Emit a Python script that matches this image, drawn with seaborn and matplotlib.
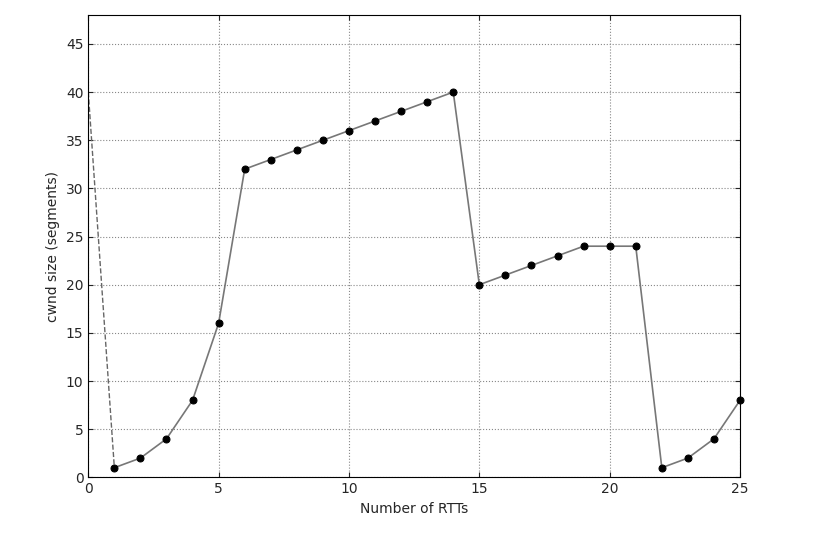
import matplotlib
matplotlib.use("Agg")
import matplotlib.pyplot as plt
import seaborn as sns
import pandas as pd

# cwnd per RTT
rtts = list(range(1, 26))
cwnd = [1, 2, 4, 8, 16, 32, 33, 34, 35, 36, 37, 38, 39, 40,
        20, 21, 22, 23, 24, 24, 24, 1, 2, 4, 8]
# dashed drop at start
drop_x = [0, 1]
drop_y = [40, 1]

sns.set_style("ticks")
plt.rcParams["font.family"] = ["DejaVu Sans"]

df = pd.DataFrame({"rtt": rtts, "cwnd": cwnd})

fig, ax = plt.subplots(figsize=(8.25, 5.57), dpi=100)
fig.subplots_adjust(left=0.107, right=0.897, top=0.973, bottom=0.143)

sns.lineplot(x=drop_x, y=drop_y, ax=ax, color="#666666", linestyle="--", linewidth=1)
sns.lineplot(data=df, x="rtt", y="cwnd", ax=ax, color="#777777", linewidth=1.2,
             marker="o", markersize=5, markerfacecolor="black", markeredgecolor="black",
             clip_on=False)

ax.set_xlim(0, 25)
ax.set_ylim(0, 48)
ax.set_xticks(range(0, 26, 5))
ax.set_yticks(range(0, 46, 5))
ax.grid(True, linestyle=":", color="#888888", linewidth=0.8)
ax.tick_params(direction="in", top=True, right=True, labelsize=10)
for s in ax.spines.values():
    s.set_visible(True)
    s.set_color("black")
ax.set_xlabel("Number of RTTs", fontsize=10)
ax.set_ylabel("cwnd size (segments)", fontsize=10)

fig.savefig("out.png", dpi=100)
